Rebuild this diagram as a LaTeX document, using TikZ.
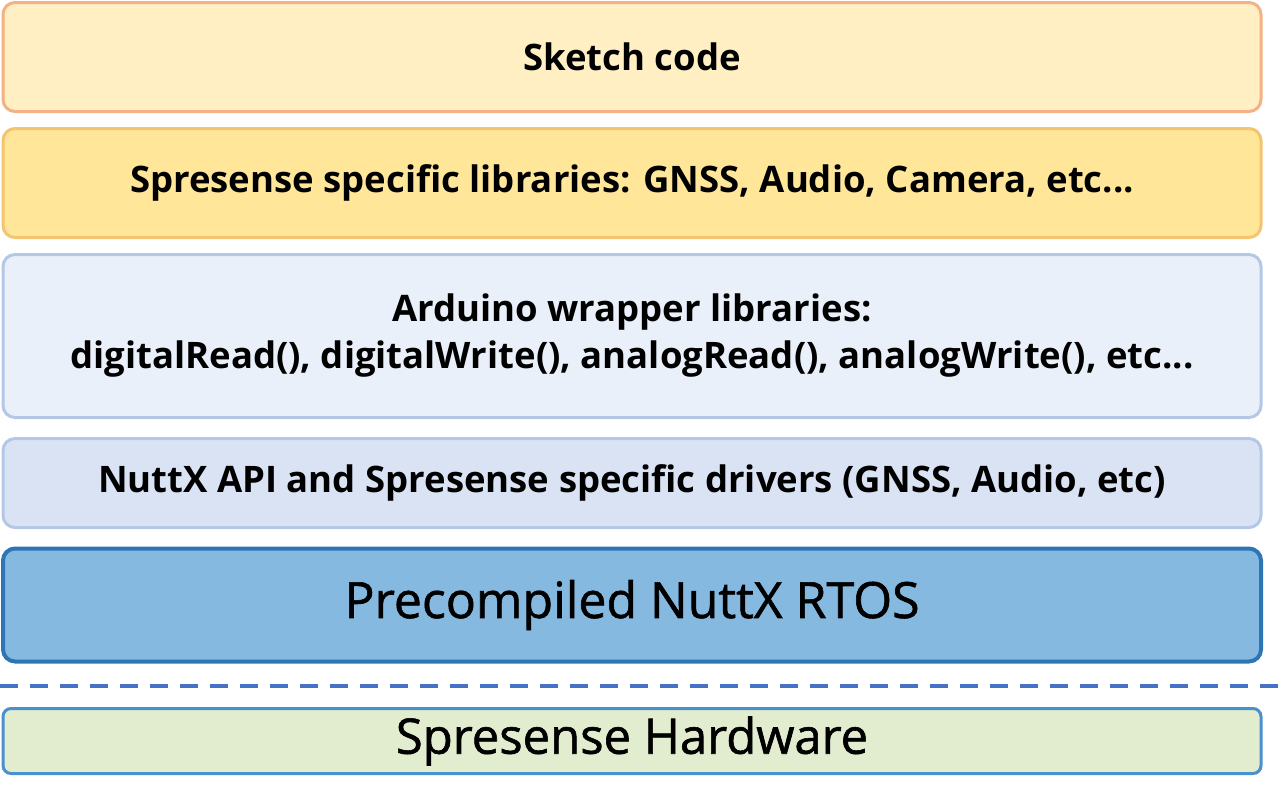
\documentclass[tikz,border=0pt]{standalone}
\usepackage{fontspec}
\setmainfont{Open Sans}
\newfontfamily\medfont[FakeBold=1.2]{Open Sans}
\definecolor{sketchfill}{HTML}{FFEFC2}
\definecolor{sketchdraw}{HTML}{F4B183}
\definecolor{libfill}{HTML}{FFE699}
\definecolor{libdraw}{HTML}{F5C46E}
\definecolor{wrapfill}{HTML}{EAF0FA}
\definecolor{wrapdraw}{HTML}{B4C7E7}
\definecolor{apifill}{HTML}{DAE3F3}
\definecolor{rtosfill}{HTML}{85B9E0}
\definecolor{rtosdraw}{HTML}{2E75B6}
\definecolor{hwfill}{HTML}{E2EDCF}
\definecolor{hwdraw}{HTML}{4A90CF}
\definecolor{dashcol}{HTML}{4472C4}
\tikzset{
  layer/.style={rectangle,rounded corners=12pt,line width=3pt,minimum width=1258pt,align=center},
}
\begin{document}
\begin{tikzpicture}[x=1pt,y=-1pt]
    \useasboundingbox (0,0) rectangle (1280,803);
    \node[layer,fill=sketchfill,draw=sketchdraw,minimum height=109pt,font=\fontsize{36.5}{42}\selectfont\bfseries] (sketch) at (632,57) {Sketch code};
    \node[layer,fill=libfill,draw=libdraw,minimum height=109pt,font=\fontsize{36.5}{42}\selectfont\bfseries] (libs) at (632,183) {Spresense specific libraries: GNSS, Audio, Camera, etc...};
    \node[layer,fill=wrapfill,draw=wrapdraw,minimum height=163pt,font=\fontsize{36.5}{47}\selectfont\bfseries] (wrapper) at (632,336) {Arduino wrapper libraries:\\digitalRead(), digitalWrite(), analogRead(), analogWrite(), etc...};
    \node[layer,fill=apifill,draw=wrapdraw,minimum height=89pt,font=\fontsize{36.5}{42}\selectfont\bfseries] (api) at (632,483) {NuttX API and Spresense specific drivers (GNSS, Audio, etc)};
    \node[layer,fill=rtosfill,draw=rtosdraw,line width=4pt,minimum height=113pt,font=\fontsize{50}{56}\selectfont\medfont] (rtos) at (632,605) {Precompiled NuttX RTOS};
    \coordinate (dashL) at (0,686);
    \coordinate (dashR) at (1280,686);
    \draw[dashcol,line width=4pt,dash pattern=on 18pt off 12pt] (dashL) -- (dashR);
    \node[layer,fill=hwfill,draw=hwdraw,minimum height=65pt,rounded corners=8pt,font=\fontsize{49}{54}\selectfont\medfont] (hw) at (632,741) {Spresense Hardware};
\end{tikzpicture}
\end{document}
